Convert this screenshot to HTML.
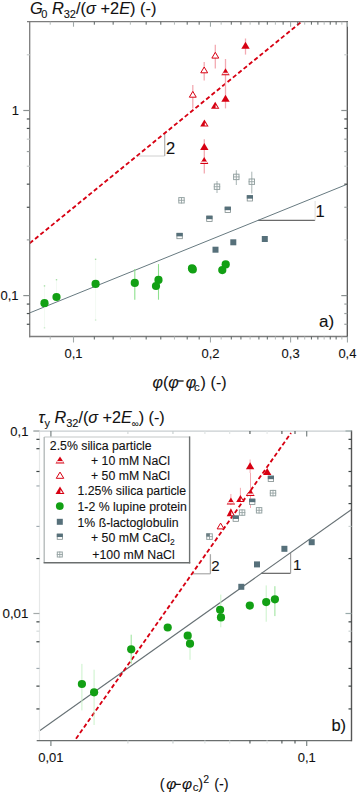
<!DOCTYPE html>
<html><head><meta charset="utf-8"><style>
html,body{margin:0;padding:0;background:#fff;width:358px;height:794px;overflow:hidden}
svg{display:block}
text{font-family:"Liberation Sans",sans-serif;fill:#111;stroke:#111;stroke-width:0.1px}
</style></head><body>
<svg width="358" height="794" viewBox="0 0 358 794">
<rect width="358" height="794" fill="#fff"/>
<line x1="136.70" y1="156.00" x2="164.70" y2="156.00" stroke="#d0d0d0" stroke-width="1" />
<line x1="164.70" y1="133.10" x2="164.70" y2="156.00" stroke="#b0b0b0" stroke-width="1.2" />
<line x1="258.10" y1="220.40" x2="315.10" y2="220.40" stroke="#6a6a6a" stroke-width="1.1" />
<line x1="315.10" y1="201.00" x2="315.10" y2="220.40" stroke="#dedede" stroke-width="1" />
<line x1="29.70" y1="312.90" x2="347.30" y2="184.20" stroke="#677a80" stroke-width="1.0" />
<line x1="29.70" y1="243.3" x2="301.5" y2="21.7" stroke="#d70012" stroke-width="1.85" stroke-dasharray="4.3 2.6"/>
<line x1="44.50" y1="285.90" x2="44.50" y2="327.80" stroke="#f3faf3" stroke-width="1" />
<rect x="43.80" y="285.20" width="1.4" height="1.4" fill="#a8e0a8"/>
<rect x="43.80" y="327.10" width="1.4" height="1.4" fill="#cdeccd"/>
<line x1="56.50" y1="279.70" x2="56.50" y2="300.00" stroke="#f3faf3" stroke-width="1" />
<rect x="55.80" y="279.00" width="1.4" height="1.4" fill="#a8e0a8"/>
<rect x="55.80" y="299.30" width="1.4" height="1.4" fill="#cdeccd"/>
<line x1="95.60" y1="259.30" x2="95.60" y2="320.00" stroke="#f3faf3" stroke-width="1" />
<rect x="94.90" y="258.60" width="1.4" height="1.4" fill="#a8e0a8"/>
<rect x="94.90" y="319.30" width="1.4" height="1.4" fill="#cdeccd"/>
<line x1="134.80" y1="269.00" x2="134.80" y2="299.70" stroke="#8ee08e" stroke-width="1.1" />
<line x1="158.50" y1="264.10" x2="158.50" y2="299.70" stroke="#8ee08e" stroke-width="1.1" />
<line x1="245.50" y1="38.50" x2="245.50" y2="54.60" stroke="#f3aab2" stroke-width="1.3" />
<line x1="215.30" y1="44.70" x2="215.30" y2="68.50" stroke="#f3aab2" stroke-width="1.3" />
<line x1="204.20" y1="62.00" x2="204.20" y2="80.40" stroke="#f3aab2" stroke-width="1.3" />
<line x1="225.50" y1="59.00" x2="225.50" y2="108.40" stroke="#f3aab2" stroke-width="1.3" />
<line x1="192.80" y1="84.90" x2="192.80" y2="108.40" stroke="#f3aab2" stroke-width="1.3" />
<line x1="204.30" y1="139.20" x2="204.30" y2="173.50" stroke="#f3aab2" stroke-width="1.3" />
<line x1="236.30" y1="170.20" x2="236.30" y2="185.00" stroke="#a8b4b4" stroke-width="1" />
<line x1="251.80" y1="171.70" x2="251.80" y2="193.50" stroke="#a8b4b4" stroke-width="1" />
<line x1="217.00" y1="181.00" x2="217.00" y2="193.00" stroke="#a8b4b4" stroke-width="1" />
<path d="M245.50,41.80 L249.70,48.80 L241.30,48.80 Z" fill="#d70012"/>
<path d="M215.30,52.30 L218.75,58.10 L211.85,58.10 Z" fill="#fff" stroke="#d70012" stroke-width="1.0" stroke-linejoin="miter"/>
<path d="M204.20,67.00 L207.65,72.80 L200.75,72.80 Z" fill="#fff" stroke="#d70012" stroke-width="1.0" stroke-linejoin="miter"/>
<path d="M225.50,68.20 L229.70,75.20 L221.30,75.20 Z" fill="#d70012"/>
<path d="M222.98,72.68 L228.02,72.68 L228.86,74.22 L222.14,74.22 Z" fill="#fbe0e3"/>
<path d="M192.80,91.40 L196.25,97.20 L189.35,97.20 Z" fill="#fff" stroke="#d70012" stroke-width="1.0" stroke-linejoin="miter"/>
<path d="M225.50,94.70 L229.70,101.70 L221.30,101.70 Z" fill="#d70012"/>
<path d="M215.20,101.70 L219.40,108.70 L211.00,108.70 Z" fill="#d70012"/>
<path d="M215.70,104.64 L217.80,107.70 L215.50,107.70 Z" fill="#fff"/>
<path d="M204.40,119.60 L208.60,126.60 L200.20,126.60 Z" fill="#d70012"/>
<path d="M204.90,122.54 L207.00,125.60 L204.70,125.60 Z" fill="#fff"/>
<path d="M204.30,143.00 L208.50,150.00 L200.10,150.00 Z" fill="#d70012"/>
<path d="M204.20,157.00 L208.40,164.00 L200.00,164.00 Z" fill="#d70012"/>
<path d="M201.68,161.48 L206.72,161.48 L207.56,163.02 L200.84,163.02 Z" fill="#fbe0e3"/>
<rect x="178.80" y="197.60" width="5.4" height="5.4" fill="#fff" stroke="#96a4a4" stroke-width="1"/>
<line x1="181.50" y1="197.10" x2="181.50" y2="203.50" stroke="#96a4a4" stroke-width="0.9" />
<line x1="178.30" y1="200.30" x2="184.70" y2="200.30" stroke="#96a4a4" stroke-width="0.9" />
<rect x="214.30" y="184.00" width="5.4" height="5.4" fill="#fff" stroke="#96a4a4" stroke-width="1"/>
<line x1="217.00" y1="183.50" x2="217.00" y2="189.90" stroke="#96a4a4" stroke-width="0.9" />
<line x1="213.80" y1="186.70" x2="220.20" y2="186.70" stroke="#96a4a4" stroke-width="0.9" />
<rect x="233.60" y="174.20" width="5.4" height="5.4" fill="#fff" stroke="#96a4a4" stroke-width="1"/>
<line x1="236.30" y1="173.70" x2="236.30" y2="180.10" stroke="#96a4a4" stroke-width="0.9" />
<line x1="233.10" y1="176.90" x2="239.50" y2="176.90" stroke="#96a4a4" stroke-width="0.9" />
<rect x="249.10" y="179.00" width="5.4" height="5.4" fill="#fff" stroke="#96a4a4" stroke-width="1"/>
<line x1="251.80" y1="178.50" x2="251.80" y2="184.90" stroke="#96a4a4" stroke-width="0.9" />
<line x1="248.60" y1="181.70" x2="255.00" y2="181.70" stroke="#96a4a4" stroke-width="0.9" />
<rect x="176.90" y="233.30" width="5.40" height="5.40" fill="#fff" stroke="#7f8c8c" stroke-width="0.8"/>
<rect x="176.50" y="232.90" width="6.2" height="3.47" fill="#56707a"/>
<rect x="206.70" y="216.10" width="5.40" height="5.40" fill="#fff" stroke="#7f8c8c" stroke-width="0.8"/>
<rect x="206.30" y="215.70" width="6.2" height="3.47" fill="#56707a"/>
<rect x="225.10" y="207.10" width="5.40" height="5.40" fill="#fff" stroke="#7f8c8c" stroke-width="0.8"/>
<rect x="224.70" y="206.70" width="6.2" height="3.47" fill="#56707a"/>
<rect x="247.20" y="195.60" width="5.40" height="5.40" fill="#fff" stroke="#7f8c8c" stroke-width="0.8"/>
<rect x="246.80" y="195.20" width="6.2" height="3.47" fill="#56707a"/>
<rect x="212.50" y="246.70" width="6" height="6" fill="#56707a"/>
<rect x="230.30" y="239.30" width="6" height="6" fill="#56707a"/>
<rect x="261.80" y="236.00" width="6" height="6" fill="#56707a"/>
<circle cx="44.50" cy="303.20" r="4.1" fill="#12a014"/>
<circle cx="56.50" cy="297.00" r="4.1" fill="#12a014"/>
<circle cx="95.60" cy="283.90" r="4.1" fill="#12a014"/>
<circle cx="134.80" cy="282.90" r="4.1" fill="#12a014"/>
<circle cx="158.50" cy="279.90" r="4.1" fill="#12a014"/>
<circle cx="156.00" cy="286.00" r="4.1" fill="#12a014"/>
<circle cx="192.00" cy="268.40" r="4.1" fill="#12a014"/>
<circle cx="192.80" cy="269.40" r="4.1" fill="#12a014"/>
<circle cx="222.30" cy="270.10" r="4.1" fill="#12a014"/>
<circle cx="225.70" cy="264.40" r="4.1" fill="#12a014"/>
<line x1="27.00" y1="21.70" x2="347.30" y2="21.70" stroke="#7d7d7d" stroke-width="1.3" />
<line x1="29.70" y1="21.70" x2="29.70" y2="337.20" stroke="#7d7d7d" stroke-width="1.3" />
<line x1="29.10" y1="336.50" x2="347.90" y2="336.50" stroke="#7d7d7d" stroke-width="1.3" />
<line x1="347.30" y1="21.10" x2="347.30" y2="337.10" stroke="#555" stroke-width="1.3" />
<line x1="23.30" y1="295.60" x2="29.70" y2="295.60" stroke="#8a9090" stroke-width="1.2" />
<line x1="341.30" y1="295.60" x2="347.30" y2="295.60" stroke="#8a9090" stroke-width="1.2" />
<line x1="23.30" y1="110.50" x2="29.70" y2="110.50" stroke="#8a9090" stroke-width="1.2" />
<line x1="341.30" y1="110.50" x2="347.30" y2="110.50" stroke="#8a9090" stroke-width="1.2" />
<line x1="26.80" y1="54.78" x2="29.70" y2="54.78" stroke="#c8cccc" stroke-width="1.2" />
<line x1="26.80" y1="118.97" x2="29.70" y2="118.97" stroke="#4a5050" stroke-width="1.2" />
<line x1="26.80" y1="128.44" x2="29.70" y2="128.44" stroke="#4a5050" stroke-width="1.2" />
<line x1="26.80" y1="139.17" x2="29.70" y2="139.17" stroke="#c8cccc" stroke-width="1.2" />
<line x1="26.80" y1="151.56" x2="29.70" y2="151.56" stroke="#9aa0a0" stroke-width="1.2" />
<line x1="26.80" y1="166.22" x2="29.70" y2="166.22" stroke="#c8cccc" stroke-width="1.2" />
<line x1="26.80" y1="184.16" x2="29.70" y2="184.16" stroke="#4a5050" stroke-width="1.2" />
<line x1="26.80" y1="207.28" x2="29.70" y2="207.28" stroke="#4a5050" stroke-width="1.2" />
<line x1="26.80" y1="239.88" x2="29.70" y2="239.88" stroke="#9aa0a0" stroke-width="1.2" />
<line x1="26.80" y1="304.07" x2="29.70" y2="304.07" stroke="#4a5050" stroke-width="1.2" />
<line x1="26.80" y1="313.54" x2="29.70" y2="313.54" stroke="#4a5050" stroke-width="1.2" />
<line x1="26.80" y1="324.27" x2="29.70" y2="324.27" stroke="#4a5050" stroke-width="1.2" />
<line x1="344.30" y1="54.78" x2="347.30" y2="54.78" stroke="#c8cccc" stroke-width="1.2" />
<line x1="344.30" y1="118.97" x2="347.30" y2="118.97" stroke="#4a5050" stroke-width="1.2" />
<line x1="344.30" y1="128.44" x2="347.30" y2="128.44" stroke="#4a5050" stroke-width="1.2" />
<line x1="344.30" y1="139.17" x2="347.30" y2="139.17" stroke="#9aa0a0" stroke-width="1.2" />
<line x1="344.30" y1="151.56" x2="347.30" y2="151.56" stroke="#9aa0a0" stroke-width="1.2" />
<line x1="344.30" y1="166.22" x2="347.30" y2="166.22" stroke="#c8cccc" stroke-width="1.2" />
<line x1="344.30" y1="184.16" x2="347.30" y2="184.16" stroke="#4a5050" stroke-width="1.2" />
<line x1="344.30" y1="207.28" x2="347.30" y2="207.28" stroke="#9aa0a0" stroke-width="1.2" />
<line x1="344.30" y1="239.88" x2="347.30" y2="239.88" stroke="#c8cccc" stroke-width="1.2" />
<line x1="344.30" y1="304.07" x2="347.30" y2="304.07" stroke="#9aa0a0" stroke-width="1.2" />
<line x1="344.30" y1="313.54" x2="347.30" y2="313.54" stroke="#9aa0a0" stroke-width="1.2" />
<line x1="344.30" y1="324.27" x2="347.30" y2="324.27" stroke="#9aa0a0" stroke-width="1.2" />
<line x1="73.50" y1="336.50" x2="73.50" y2="342.50" stroke="#a0a8a8" stroke-width="1.1" />
<line x1="73.50" y1="21.70" x2="73.50" y2="26.70" stroke="#a0a8a8" stroke-width="1.1" />
<line x1="210.47" y1="336.50" x2="210.47" y2="342.50" stroke="#a0a8a8" stroke-width="1.1" />
<line x1="210.47" y1="21.70" x2="210.47" y2="26.70" stroke="#a0a8a8" stroke-width="1.1" />
<line x1="290.59" y1="336.50" x2="290.59" y2="342.50" stroke="#a0a8a8" stroke-width="1.1" />
<line x1="290.59" y1="21.70" x2="290.59" y2="26.70" stroke="#a0a8a8" stroke-width="1.1" />
<line x1="347.44" y1="336.50" x2="347.44" y2="342.50" stroke="#a0a8a8" stroke-width="1.1" />
<line x1="347.44" y1="21.70" x2="347.44" y2="26.70" stroke="#a0a8a8" stroke-width="1.1" />
<line x1="50.23" y1="336.50" x2="50.23" y2="339.50" stroke="#b4baba" stroke-width="1.0" />
<line x1="50.23" y1="21.70" x2="50.23" y2="24.70" stroke="#b4baba" stroke-width="1.0" />
<line x1="94.32" y1="336.50" x2="94.32" y2="339.50" stroke="#5a6262" stroke-width="1.0" />
<line x1="94.32" y1="21.70" x2="94.32" y2="24.70" stroke="#5a6262" stroke-width="1.0" />
<line x1="113.15" y1="336.50" x2="113.15" y2="339.50" stroke="#5a6262" stroke-width="1.0" />
<line x1="113.15" y1="21.70" x2="113.15" y2="24.70" stroke="#5a6262" stroke-width="1.0" />
<line x1="130.35" y1="336.50" x2="130.35" y2="339.50" stroke="#b4baba" stroke-width="1.0" />
<line x1="130.35" y1="21.70" x2="130.35" y2="24.70" stroke="#b4baba" stroke-width="1.0" />
<line x1="146.16" y1="336.50" x2="146.16" y2="339.50" stroke="#5a6262" stroke-width="1.0" />
<line x1="146.16" y1="21.70" x2="146.16" y2="24.70" stroke="#5a6262" stroke-width="1.0" />
<line x1="160.81" y1="336.50" x2="160.81" y2="339.50" stroke="#5a6262" stroke-width="1.0" />
<line x1="160.81" y1="21.70" x2="160.81" y2="24.70" stroke="#5a6262" stroke-width="1.0" />
<line x1="174.44" y1="336.50" x2="174.44" y2="339.50" stroke="#b4baba" stroke-width="1.0" />
<line x1="174.44" y1="21.70" x2="174.44" y2="24.70" stroke="#b4baba" stroke-width="1.0" />
<line x1="187.19" y1="336.50" x2="187.19" y2="339.50" stroke="#5a6262" stroke-width="1.0" />
<line x1="187.19" y1="21.70" x2="187.19" y2="24.70" stroke="#5a6262" stroke-width="1.0" />
<line x1="199.17" y1="336.50" x2="199.17" y2="339.50" stroke="#5a6262" stroke-width="1.0" />
<line x1="199.17" y1="21.70" x2="199.17" y2="24.70" stroke="#5a6262" stroke-width="1.0" />
<line x1="221.15" y1="336.50" x2="221.15" y2="339.50" stroke="#b4baba" stroke-width="1.0" />
<line x1="221.15" y1="21.70" x2="221.15" y2="24.70" stroke="#b4baba" stroke-width="1.0" />
<line x1="231.29" y1="336.50" x2="231.29" y2="339.50" stroke="#5a6262" stroke-width="1.0" />
<line x1="231.29" y1="21.70" x2="231.29" y2="24.70" stroke="#5a6262" stroke-width="1.0" />
<line x1="240.93" y1="336.50" x2="240.93" y2="339.50" stroke="#5a6262" stroke-width="1.0" />
<line x1="240.93" y1="21.70" x2="240.93" y2="24.70" stroke="#5a6262" stroke-width="1.0" />
<line x1="250.12" y1="336.50" x2="250.12" y2="339.50" stroke="#b4baba" stroke-width="1.0" />
<line x1="250.12" y1="21.70" x2="250.12" y2="24.70" stroke="#b4baba" stroke-width="1.0" />
<line x1="258.91" y1="336.50" x2="258.91" y2="339.50" stroke="#5a6262" stroke-width="1.0" />
<line x1="258.91" y1="21.70" x2="258.91" y2="24.70" stroke="#5a6262" stroke-width="1.0" />
<line x1="267.32" y1="336.50" x2="267.32" y2="339.50" stroke="#5a6262" stroke-width="1.0" />
<line x1="267.32" y1="21.70" x2="267.32" y2="24.70" stroke="#5a6262" stroke-width="1.0" />
<line x1="275.38" y1="336.50" x2="275.38" y2="339.50" stroke="#b4baba" stroke-width="1.0" />
<line x1="275.38" y1="21.70" x2="275.38" y2="24.70" stroke="#b4baba" stroke-width="1.0" />
<line x1="283.13" y1="336.50" x2="283.13" y2="339.50" stroke="#5a6262" stroke-width="1.0" />
<line x1="283.13" y1="21.70" x2="283.13" y2="24.70" stroke="#5a6262" stroke-width="1.0" />
<line x1="297.78" y1="336.50" x2="297.78" y2="339.50" stroke="#5a6262" stroke-width="1.0" />
<line x1="297.78" y1="21.70" x2="297.78" y2="24.70" stroke="#5a6262" stroke-width="1.0" />
<line x1="304.71" y1="336.50" x2="304.71" y2="339.50" stroke="#b4baba" stroke-width="1.0" />
<line x1="304.71" y1="21.70" x2="304.71" y2="24.70" stroke="#b4baba" stroke-width="1.0" />
<line x1="311.41" y1="336.50" x2="311.41" y2="339.50" stroke="#5a6262" stroke-width="1.0" />
<line x1="311.41" y1="21.70" x2="311.41" y2="24.70" stroke="#5a6262" stroke-width="1.0" />
<line x1="317.89" y1="336.50" x2="317.89" y2="339.50" stroke="#5a6262" stroke-width="1.0" />
<line x1="317.89" y1="21.70" x2="317.89" y2="24.70" stroke="#5a6262" stroke-width="1.0" />
<line x1="324.16" y1="336.50" x2="324.16" y2="339.50" stroke="#b4baba" stroke-width="1.0" />
<line x1="324.16" y1="21.70" x2="324.16" y2="24.70" stroke="#b4baba" stroke-width="1.0" />
<line x1="330.24" y1="336.50" x2="330.24" y2="339.50" stroke="#5a6262" stroke-width="1.0" />
<line x1="330.24" y1="21.70" x2="330.24" y2="24.70" stroke="#5a6262" stroke-width="1.0" />
<line x1="336.14" y1="336.50" x2="336.14" y2="339.50" stroke="#5a6262" stroke-width="1.0" />
<line x1="336.14" y1="21.70" x2="336.14" y2="24.70" stroke="#5a6262" stroke-width="1.0" />
<line x1="341.87" y1="336.50" x2="341.87" y2="339.50" stroke="#b4baba" stroke-width="1.0" />
<line x1="341.87" y1="21.70" x2="341.87" y2="24.70" stroke="#b4baba" stroke-width="1.0" />
<text x="73.50" y="358.00" font-size="13" text-anchor="middle" >0,1</text>
<text x="210.47" y="358.00" font-size="13" text-anchor="middle" >0,2</text>
<text x="290.59" y="358.00" font-size="13" text-anchor="middle" >0,3</text>
<text x="347.44" y="358.00" font-size="13" text-anchor="middle" >0,4</text>
<text x="19.00" y="114.80" font-size="13" text-anchor="end" >1</text>
<text x="18.60" y="300.20" font-size="13" text-anchor="end" >0,1</text>
<text x="166.00" y="154.30" font-size="16.5" text-anchor="start" >2</text>
<text x="315.40" y="216.60" font-size="16.5" text-anchor="start" >1</text>
<text x="319.00" y="326.80" font-size="17" text-anchor="start" >a)</text>
<text x="30" y="13.6" font-size="16.4"><tspan font-style="italic">G</tspan><tspan x="41.2" font-size="11" dy="4">0</tspan><tspan dy="-4"> </tspan><tspan font-style="italic">R</tspan><tspan font-size="11" dy="4">32</tspan><tspan dy="-4">/(</tspan><tspan font-style="italic">σ</tspan><tspan> +2</tspan><tspan font-style="italic">E</tspan><tspan>) (-)</tspan></text>
<text x="152.5" y="387.5" font-size="16"><tspan font-style="italic">φ</tspan><tspan>(</tspan><tspan font-style="italic">φ</tspan><tspan x="185.8" font-style="italic">φ</tspan><tspan x="194.0" font-size="11.5" dy="3.5">c</tspan><tspan x="200.6" dy="-3.5">)</tspan><tspan x="210.6">(-)</tspan></text>
<line x1="177.60" y1="381.00" x2="183.60" y2="381.00" stroke="#111" stroke-width="1.3" />
<rect x="44.2" y="437.0" width="145.4" height="125.8" fill="#fff"/>
<line x1="44.20" y1="437.00" x2="189.60" y2="437.00" stroke="#c4c8c8" stroke-width="1.2" />
<line x1="44.20" y1="437.00" x2="44.20" y2="562.80" stroke="#b0b6b6" stroke-width="1.3" />
<line x1="189.60" y1="436.40" x2="189.60" y2="563.40" stroke="#6e7272" stroke-width="1.4" />
<line x1="43.60" y1="562.80" x2="190.20" y2="562.80" stroke="#6a6e6e" stroke-width="1.4" />
<line x1="192.30" y1="573.80" x2="210.40" y2="573.80" stroke="#a0a0a0" stroke-width="1.1" />
<line x1="210.40" y1="554.20" x2="210.40" y2="573.80" stroke="#a8a8a8" stroke-width="1.3" />
<line x1="260.90" y1="573.30" x2="290.60" y2="573.30" stroke="#555" stroke-width="1.1" />
<line x1="290.60" y1="553.00" x2="290.60" y2="573.30" stroke="#a0a0a0" stroke-width="1.2" />
<line x1="38.90" y1="731.30" x2="351.50" y2="509.50" stroke="#667074" stroke-width="1.05" />
<line x1="76.0" y1="738.7" x2="291.0" y2="433.0" stroke="#d70012" stroke-width="1.85" stroke-dasharray="4.3 2.6"/>
<line x1="81.90" y1="663.90" x2="81.90" y2="710.40" stroke="#c4f0c4" stroke-width="0.9" />
<line x1="94.10" y1="669.70" x2="94.10" y2="725.00" stroke="#c4f0c4" stroke-width="0.9" />
<line x1="190.00" y1="630.80" x2="190.00" y2="659.80" stroke="#c4f0c4" stroke-width="0.9" />
<line x1="220.80" y1="594.60" x2="220.80" y2="627.30" stroke="#c4f0c4" stroke-width="0.9" />
<line x1="266.20" y1="585.40" x2="266.20" y2="621.70" stroke="#c4f0c4" stroke-width="0.9" />
<line x1="131.20" y1="634.70" x2="131.20" y2="663.70" stroke="#98e298" stroke-width="1.0" />
<line x1="274.90" y1="586.20" x2="274.90" y2="616.10" stroke="#98e298" stroke-width="1.0" />
<line x1="250.10" y1="459.50" x2="250.10" y2="473.00" stroke="#f3aab2" stroke-width="1" />
<line x1="250.50" y1="473.00" x2="250.50" y2="508.00" stroke="#f3aab2" stroke-width="1" />
<line x1="240.40" y1="487.80" x2="240.40" y2="501.00" stroke="#f3aab2" stroke-width="1" />
<line x1="230.90" y1="494.00" x2="230.90" y2="505.00" stroke="#f3aab2" stroke-width="1" />
<path d="M250.10,462.30 L254.30,469.30 L245.90,469.30 Z" fill="#d70012"/>
<path d="M267.20,468.00 L271.40,475.00 L263.00,475.00 Z" fill="#d70012"/>
<path d="M250.50,488.90 L254.70,495.90 L246.30,495.90 Z" fill="#d70012"/>
<path d="M247.98,493.38 L253.02,493.38 L253.86,494.92 L247.14,494.92 Z" fill="#fbe0e3"/>
<path d="M240.40,495.10 L244.60,502.10 L236.20,502.10 Z" fill="#d70012"/>
<path d="M240.90,498.04 L243.00,501.10 L240.70,501.10 Z" fill="#fff"/>
<path d="M230.90,497.60 L235.10,504.60 L226.70,504.60 Z" fill="#d70012"/>
<path d="M228.38,502.08 L233.42,502.08 L234.26,503.62 L227.54,503.62 Z" fill="#fbe0e3"/>
<path d="M230.90,508.30 L235.10,516.30 L226.70,516.30 Z" fill="#d70012"/>
<path d="M231.40,511.66 L233.50,515.30 L231.20,515.30 Z" fill="#fff"/>
<path d="M220.60,523.10 L224.05,528.90 L217.15,528.90 Z" fill="#fff" stroke="#d70012" stroke-width="1.0" stroke-linejoin="miter"/>
<rect x="270.30" y="490.40" width="5.4" height="5.4" fill="#fff" stroke="#96a4a4" stroke-width="1"/>
<line x1="273.00" y1="489.90" x2="273.00" y2="496.30" stroke="#96a4a4" stroke-width="0.9" />
<line x1="269.80" y1="493.10" x2="276.20" y2="493.10" stroke="#96a4a4" stroke-width="0.9" />
<rect x="256.40" y="507.60" width="5.4" height="5.4" fill="#fff" stroke="#96a4a4" stroke-width="1"/>
<line x1="259.10" y1="507.10" x2="259.10" y2="513.50" stroke="#96a4a4" stroke-width="0.9" />
<line x1="255.90" y1="510.30" x2="262.30" y2="510.30" stroke="#96a4a4" stroke-width="0.9" />
<rect x="239.40" y="509.90" width="5.4" height="5.4" fill="#fff" stroke="#96a4a4" stroke-width="1"/>
<line x1="242.10" y1="509.40" x2="242.10" y2="515.80" stroke="#96a4a4" stroke-width="0.9" />
<line x1="238.90" y1="512.60" x2="245.30" y2="512.60" stroke="#96a4a4" stroke-width="0.9" />
<rect x="268.20" y="476.10" width="5.40" height="5.40" fill="#fff" stroke="#7f8c8c" stroke-width="0.8"/>
<rect x="267.80" y="475.70" width="6.2" height="3.47" fill="#56707a"/>
<rect x="249.50" y="499.10" width="5.40" height="5.40" fill="#fff" stroke="#7f8c8c" stroke-width="0.8"/>
<rect x="249.10" y="498.70" width="6.2" height="3.47" fill="#56707a"/>
<rect x="233.10" y="515.90" width="5.40" height="5.40" fill="#fff" stroke="#7f8c8c" stroke-width="0.8"/>
<rect x="232.70" y="515.50" width="6.2" height="3.47" fill="#56707a"/>
<rect x="206.70" y="533.80" width="5.6" height="5.6" fill="#fff" stroke="#96a4a4" stroke-width="1"/>
<line x1="209.50" y1="533.30" x2="209.50" y2="539.90" stroke="#96a4a4" stroke-width="0.9" />
<line x1="206.20" y1="536.60" x2="212.80" y2="536.60" stroke="#96a4a4" stroke-width="0.9" />
<rect x="206.3" y="533.4" width="3.4" height="3.0" fill="#6a7e84"/>
<rect x="238.30" y="583.80" width="6" height="6" fill="#56707a"/>
<rect x="254.00" y="561.40" width="6" height="6" fill="#56707a"/>
<rect x="281.40" y="545.80" width="6" height="6" fill="#56707a"/>
<rect x="308.70" y="539.20" width="6" height="6" fill="#56707a"/>
<circle cx="81.90" cy="684.00" r="4.1" fill="#12a014"/>
<circle cx="94.10" cy="692.30" r="4.1" fill="#12a014"/>
<circle cx="131.20" cy="649.30" r="4.1" fill="#12a014"/>
<circle cx="167.70" cy="627.50" r="4.1" fill="#12a014"/>
<circle cx="187.70" cy="635.70" r="4.1" fill="#12a014"/>
<circle cx="190.00" cy="643.70" r="4.1" fill="#12a014"/>
<circle cx="220.10" cy="609.80" r="4.1" fill="#12a014"/>
<circle cx="221.00" cy="617.40" r="4.1" fill="#12a014"/>
<circle cx="249.80" cy="605.60" r="4.1" fill="#12a014"/>
<circle cx="266.20" cy="602.10" r="4.1" fill="#12a014"/>
<circle cx="274.90" cy="599.30" r="4.1" fill="#12a014"/>
<line x1="33.40" y1="431.10" x2="351.50" y2="431.10" stroke="#c8ced0" stroke-width="1.3" />
<line x1="39.50" y1="431.10" x2="39.50" y2="740.60" stroke="#e6e8e8" stroke-width="1.2" />
<line x1="36.70" y1="740.60" x2="351.50" y2="740.60" stroke="#6a6e6e" stroke-width="1.4" />
<line x1="351.50" y1="430.40" x2="351.50" y2="741.30" stroke="#555" stroke-width="1.4" />
<line x1="33.40" y1="613.50" x2="39.50" y2="613.50" stroke="#a4aaaa" stroke-width="1.2" />
<line x1="345.50" y1="613.50" x2="351.50" y2="613.50" stroke="#9aa" stroke-width="1.2" />
<line x1="33.40" y1="431.00" x2="39.50" y2="431.00" stroke="#a4aaaa" stroke-width="1.2" />
<line x1="345.50" y1="431.00" x2="351.50" y2="431.00" stroke="#9aa" stroke-width="1.2" />
<line x1="36.40" y1="439.35" x2="39.50" y2="439.35" stroke="#3c4444" stroke-width="1.2" />
<line x1="36.40" y1="448.69" x2="39.50" y2="448.69" stroke="#3c4444" stroke-width="1.2" />
<line x1="36.40" y1="471.49" x2="39.50" y2="471.49" stroke="#3c4444" stroke-width="1.2" />
<line x1="36.40" y1="485.94" x2="39.50" y2="485.94" stroke="#a0aab0" stroke-width="1.2" />
<line x1="36.40" y1="526.43" x2="39.50" y2="526.43" stroke="#a0aab0" stroke-width="1.2" />
<line x1="36.40" y1="558.56" x2="39.50" y2="558.56" stroke="#3c4444" stroke-width="1.2" />
<line x1="36.40" y1="621.85" x2="39.50" y2="621.85" stroke="#3c4444" stroke-width="1.2" />
<line x1="36.40" y1="631.19" x2="39.50" y2="631.19" stroke="#d4dada" stroke-width="1.2" />
<line x1="36.40" y1="641.77" x2="39.50" y2="641.77" stroke="#3c4444" stroke-width="1.2" />
<line x1="36.40" y1="668.44" x2="39.50" y2="668.44" stroke="#a0aab0" stroke-width="1.2" />
<line x1="36.40" y1="686.12" x2="39.50" y2="686.12" stroke="#3c4444" stroke-width="1.2" />
<line x1="36.40" y1="708.93" x2="39.50" y2="708.93" stroke="#3c4444" stroke-width="1.2" />
<line x1="348.50" y1="439.35" x2="351.50" y2="439.35" stroke="#3c4444" stroke-width="1.2" />
<line x1="348.50" y1="448.69" x2="351.50" y2="448.69" stroke="#3c4444" stroke-width="1.2" />
<line x1="348.50" y1="471.49" x2="351.50" y2="471.49" stroke="#3c4444" stroke-width="1.2" />
<line x1="348.50" y1="485.94" x2="351.50" y2="485.94" stroke="#3c4444" stroke-width="1.2" />
<line x1="348.50" y1="503.62" x2="351.50" y2="503.62" stroke="#3c4444" stroke-width="1.2" />
<line x1="348.50" y1="526.43" x2="351.50" y2="526.43" stroke="#c8d0d0" stroke-width="1.2" />
<line x1="348.50" y1="558.56" x2="351.50" y2="558.56" stroke="#3c4444" stroke-width="1.2" />
<line x1="348.50" y1="621.85" x2="351.50" y2="621.85" stroke="#3c4444" stroke-width="1.2" />
<line x1="348.50" y1="631.19" x2="351.50" y2="631.19" stroke="#c8d0d0" stroke-width="1.2" />
<line x1="348.50" y1="641.77" x2="351.50" y2="641.77" stroke="#3c4444" stroke-width="1.2" />
<line x1="348.50" y1="668.44" x2="351.50" y2="668.44" stroke="#3c4444" stroke-width="1.2" />
<line x1="348.50" y1="686.12" x2="351.50" y2="686.12" stroke="#3c4444" stroke-width="1.2" />
<line x1="348.50" y1="708.93" x2="351.50" y2="708.93" stroke="#3c4444" stroke-width="1.2" />
<line x1="50.90" y1="740.60" x2="50.90" y2="746.10" stroke="#7a8484" stroke-width="1.2" />
<line x1="50.90" y1="431.10" x2="50.90" y2="436.60" stroke="#7a8484" stroke-width="1.2" />
<line x1="306.70" y1="740.60" x2="306.70" y2="746.10" stroke="#7a8484" stroke-width="1.2" />
<line x1="306.70" y1="431.10" x2="306.70" y2="436.60" stroke="#7a8484" stroke-width="1.2" />
<line x1="127.90" y1="740.60" x2="127.90" y2="743.60" stroke="#d0d6d6" stroke-width="1.1" />
<line x1="127.90" y1="431.10" x2="127.90" y2="434.10" stroke="#d0d6d6" stroke-width="1.1" />
<line x1="172.95" y1="740.60" x2="172.95" y2="743.60" stroke="#c4cccc" stroke-width="1.1" />
<line x1="172.95" y1="431.10" x2="172.95" y2="434.10" stroke="#c4cccc" stroke-width="1.1" />
<line x1="204.91" y1="740.60" x2="204.91" y2="743.60" stroke="#dde2e2" stroke-width="1.1" />
<line x1="204.91" y1="431.10" x2="204.91" y2="434.10" stroke="#dde2e2" stroke-width="1.1" />
<line x1="229.70" y1="740.60" x2="229.70" y2="743.60" stroke="#dde2e2" stroke-width="1.1" />
<line x1="229.70" y1="431.10" x2="229.70" y2="434.10" stroke="#dde2e2" stroke-width="1.1" />
<line x1="249.95" y1="740.60" x2="249.95" y2="743.60" stroke="#4a5252" stroke-width="1.1" />
<line x1="249.95" y1="431.10" x2="249.95" y2="434.10" stroke="#4a5252" stroke-width="1.1" />
<line x1="267.08" y1="740.60" x2="267.08" y2="743.60" stroke="#e4e8e8" stroke-width="1.1" />
<line x1="267.08" y1="431.10" x2="267.08" y2="434.10" stroke="#e4e8e8" stroke-width="1.1" />
<line x1="281.91" y1="740.60" x2="281.91" y2="743.60" stroke="#4a5252" stroke-width="1.1" />
<line x1="281.91" y1="431.10" x2="281.91" y2="434.10" stroke="#4a5252" stroke-width="1.1" />
<line x1="295.00" y1="740.60" x2="295.00" y2="743.60" stroke="#4a5252" stroke-width="1.1" />
<line x1="295.00" y1="431.10" x2="295.00" y2="434.10" stroke="#4a5252" stroke-width="1.1" />
<text x="28.40" y="617.60" font-size="13.3" text-anchor="end" >0,01</text>
<text x="28.40" y="435.60" font-size="13" text-anchor="end" >0,1</text>
<text x="50.90" y="761.50" font-size="13" text-anchor="middle" >0,01</text>
<text x="306.70" y="761.50" font-size="13" text-anchor="middle" >0,1</text>
<text x="211.30" y="570.60" font-size="15" text-anchor="start" >2</text>
<text x="293.00" y="570.40" font-size="15" text-anchor="start" >1</text>
<text x="331.40" y="730.80" font-size="16.5" text-anchor="start" >b)</text>
<text x="49.80" y="450.00" font-size="12.3" text-anchor="start" >2.5% silica particle</text>
<text x="91.00" y="465.20" font-size="12.3" text-anchor="start" >+ 10 mM NaCl</text>
<text x="91.00" y="479.60" font-size="12.3" text-anchor="start" >+ 50 mM NaCl</text>
<text x="77.50" y="495.20" font-size="12.3" text-anchor="start" >1.25% silica particle</text>
<text x="77.50" y="510.80" font-size="12.3" text-anchor="start" >1-2 % lupine protein</text>
<text x="77.50" y="527.30" font-size="12.3" text-anchor="start" >1% ß-lactoglobulin</text>
<text x="91.0" y="541.9" font-size="12.3">+ 50 mM CaCl<tspan font-size="8.5" dy="3">2</tspan></text>
<text x="92.30" y="558.50" font-size="12.3" text-anchor="start" >+100 mM NaCl</text>
<path d="M60.00,456.40 L64.50,463.60 L55.50,463.60 Z" fill="#d70012"/>
<path d="M57.30,461.01 L62.70,461.01 L63.60,462.59 L56.40,462.59 Z" fill="#fbe0e3"/>
<path d="M60.00,472.10 L63.75,478.30 L56.25,478.30 Z" fill="#fff" stroke="#d70012" stroke-width="1.0" stroke-linejoin="miter"/>
<path d="M60.00,486.60 L64.50,494.00 L55.50,494.00 Z" fill="#d70012"/>
<path d="M60.50,489.71 L62.79,493.00 L60.30,493.00 Z" fill="#fff"/>
<circle cx="59.80" cy="506.10" r="3.9" fill="#12a014"/>
<rect x="56.80" y="518.80" width="6" height="6" fill="#56707a"/>
<rect x="57.20" y="534.10" width="5.20" height="5.20" fill="#fff" stroke="#7f8c8c" stroke-width="0.8"/>
<rect x="56.80" y="533.70" width="6" height="3.36" fill="#56707a"/>
<rect x="57.30" y="552.00" width="5" height="5" fill="#fff" stroke="#96a4a4" stroke-width="1"/>
<line x1="59.80" y1="551.50" x2="59.80" y2="557.50" stroke="#96a4a4" stroke-width="0.9" />
<line x1="56.80" y1="554.50" x2="62.80" y2="554.50" stroke="#96a4a4" stroke-width="0.9" />
<text x="38.4" y="423.4" font-size="16.2"><tspan font-style="italic">τ</tspan><tspan font-size="11" dy="4">y</tspan><tspan dy="-4"> </tspan><tspan font-style="italic">R</tspan><tspan font-size="11" dy="4">32</tspan><tspan dy="-4">/(</tspan><tspan font-style="italic">σ</tspan><tspan> +2</tspan><tspan font-style="italic">E</tspan><tspan font-size="9.5" dy="4">∞</tspan><tspan dy="-4">) (-)</tspan></text>
<text y="788.8" font-size="14.5"><tspan x="159.8">(</tspan><tspan x="166.2" font-style="italic" font-size="15.5">φ</tspan><tspan x="182.0" font-style="italic" font-size="15.5">φ</tspan><tspan x="192.8" font-size="11.5" dy="2.5">c</tspan><tspan x="198.2" dy="-2.5">)</tspan><tspan x="203.2" font-size="10.5" dy="-5.5">2</tspan><tspan x="214.2" dy="5.5">(-)</tspan></text>
<line x1="175.00" y1="784.40" x2="180.80" y2="784.40" stroke="#111" stroke-width="1.25" />
</svg></body></html>
